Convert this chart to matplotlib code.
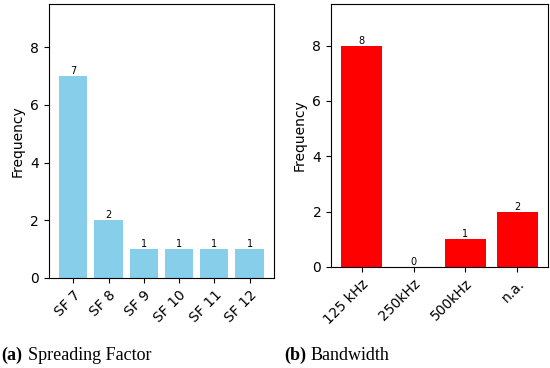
import numpy as np
import matplotlib.pyplot as plt

sf_labels = ["SF 7", "SF 8", "SF 9", "SF 10", "SF 11", "SF 12"]
sf_counts = [7, 2, 1, 1, 1, 1]

bw_labels = ["125 kHz", "250kHz", "500kHz", "n.a."]
bw_counts = [8, 0, 1, 2]


def bar_panel(ax, labels, counts, color):
    x = np.arange(len(labels))
    bars = ax.bar(x, counts, color=color, width=0.8)
    for b, c in zip(bars, counts):
        ax.text(b.get_x() + b.get_width() / 2, c, str(c),
                ha="center", va="bottom", fontsize=7)
    ax.set_xticks(x)
    ax.set_xticklabels(labels, rotation=45, ha="right", rotation_mode="anchor", fontsize=10)
    ax.set_yticks([0, 2, 4, 6, 8])
    ax.tick_params(axis="y", labelsize=10)
    ax.set_ylim(0, 9.5)
    ax.set_ylabel("Frequency", fontsize=10)


fig = plt.figure(figsize=(5.5, 3.68), dpi=100)
ax1 = fig.add_axes([0.089, 0.2446, 0.409, 0.7446])
ax2 = fig.add_axes([0.6018, 0.2745, 0.3945, 0.7147])

bar_panel(ax1, sf_labels, sf_counts, "skyblue")
bar_panel(ax2, bw_labels, bw_counts, "red")

serif = ["Liberation Serif", "DejaVu Serif"]
fig.text(0.003, 0.034, "(a)", fontsize=13, fontweight="bold", family=serif, va="center")
fig.text(0.05, 0.034, "Spreading Factor", fontsize=13, family=serif, va="center")
fig.text(0.517, 0.034, "(b)", fontsize=13, fontweight="bold", family=serif, va="center")
fig.text(0.564, 0.034, "Bandwidth", fontsize=13, family=serif, va="center")

fig.savefig("out.png", dpi=100)
